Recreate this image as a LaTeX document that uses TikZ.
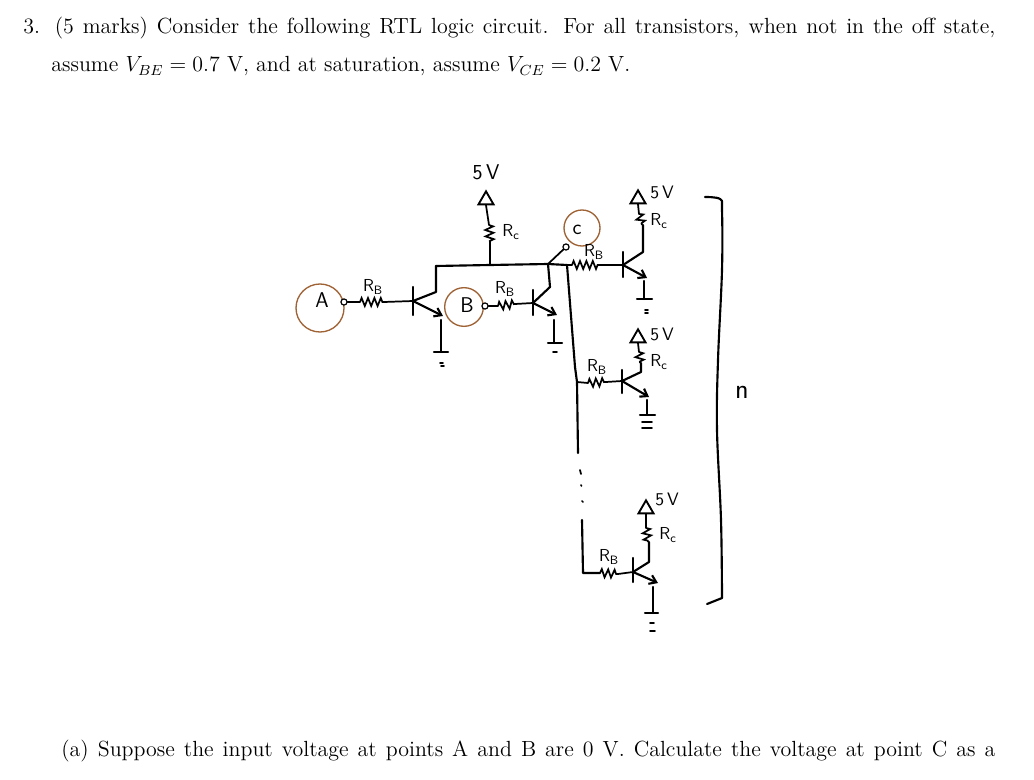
\documentclass[tikz,border=0pt]{standalone}
\usepackage{amsmath,amssymb}
\usepackage{tikz}
\usetikzlibrary{shapes,arrows,arrows.meta}
\usetikzlibrary{decorations.pathmorphing}
\definecolor{ringbrown}{RGB}{158,98,52}
\tikzstyle{wire} = [draw, line width=1.6pt, line join=round, line cap=round]
\tikzstyle{thin wire} = [draw, line width=1.3pt, line cap=round]
\tikzstyle{res} = [draw, line width=1.3pt, decorate, decoration={zigzag, segment length=4.8pt, amplitude=3pt}]
\tikzstyle{emit} = [-{Straight Barb[length=5pt,width=7pt]}, line width=1.6pt]
\tikzstyle{ring} = [circle, draw=ringbrown, line width=1pt, inner sep=0pt]
\tikzstyle{term} = [circle, draw, line width=0.9pt, fill=white, inner sep=0pt, minimum size=4.6pt]
\tikzstyle{rail} = [regular polygon, regular polygon sides=3, draw, line width=1.4pt, inner sep=0pt, minimum size=13pt]
\tikzstyle{hand} = [font=\sffamily\fontsize{13}{13}\selectfont, inner sep=0pt]
\tikzstyle{hand mid} = [font=\sffamily\fontsize{13.5}{13.5}\selectfont, inner sep=0pt]
\tikzstyle{hand big} = [font=\sffamily\fontsize{16}{16}\selectfont, inner sep=0pt]
\tikzstyle{prose} = [font=\fontsize{12}{14}\selectfont, scale=1.37, anchor=base west, inner sep=0pt]

\begin{document}
\begin{tikzpicture}[x=0.75pt,y=-0.75pt]

\useasboundingbox (0,0) rectangle (1034,780);
\fill[white] (0,0) rectangle (1034,780);

\node (l1) [prose] at (23,34) {\makebox[532.1pt][s]{3. (5 marks) Consider the following RTL logic circuit. For all transistors, when not in the off state,}};
\node (l2) [prose] at (51,72) {assume $V_{BE}=0.7$ V, and at saturation, assume $V_{CE}=0.2$ V.};
\node (l3) [prose] at (61,756) {\makebox[511.3pt][s]{(a) Suppose the input voltage at points A and B are 0 V. Calculate the voltage at point C as a}};

\node (ra) [ring, minimum size=36pt] at (320,308) {};
\node (rb) [ring, minimum size=29pt] at (464,307) {};
\node (rc) [ring, minimum size=27pt] at (582,228) {};
\node (la) [hand big] at (322,300) {A};
\node (lb) [hand big] at (467,305) {B};
\node (lc) [hand big] at (577,230) {c};

\node (ta) [term] at (344,302) {};
\node (tb) [term] at (485,306) {};
\node (tc) [term] at (566,247) {};

\coordinate (top1) at (436,266);
\coordinate (top2) at (490,265);
\coordinate (top3) at (548,264);
\coordinate (top4) at (567,265);

\draw [wire] (top1) -- (top2) -- (top3) -- (top4);
\draw [thin wire] (top3) -- (tc);

\node (v0) [rail] at (486,200) {};
\coordinate (r0a) at (489,225);
\coordinate (r0b) at (490,244);
\draw [thin wire] (v0.south) -- (r0a);
\draw [res] (r0a) -- (r0b);
\draw [thin wire] (r0b) -- (top2);
\node (s0) [hand big] at (486,172) {5\,V};
\node (c0) [hand] at (511,232) {R\textsubscript{c}};

\coordinate (b1) at (413,301);
\coordinate (r1a) at (360,302);
\coordinate (r1b) at (384,302);
\coordinate (c1) at (436,292);
\coordinate (e1) at (443,316);
\coordinate (g1) at (441,352);
\draw [thin wire] (ta) -- (r1a);
\draw [res] (r1a) -- (r1b);
\draw [thin wire] (r1b) -- (b1);
\draw [wire] (413,287) -- (413,315);
\draw [wire] (b1) -- (c1) -- (top1);
\draw [emit] (b1) -- (e1);
\draw [wire] (441,320) -- (g1);
\draw [wire] (434,352) -- (448,352);
\draw [thin wire] (440,363) -- (443,363);
\draw [thin wire] (441,366) -- (444,366);
\node (d1) [hand] at (373,287) {R\textsubscript{B}};

\coordinate (b2) at (533,303);
\coordinate (r2a) at (498,306);
\coordinate (r2b) at (515,304);
\coordinate (c2) at (550,287);
\coordinate (e2) at (557,315);
\coordinate (g2) at (554,343);
\draw [thin wire] (tb) -- (r2a);
\draw [res] (r2a) -- (r2b);
\draw [thin wire] (r2b) -- (b2);
\draw [wire] (533,290) -- (533,315);
\draw [wire] (b2) -- (c2) -- (top3);
\draw [emit] (b2) -- (e2);
\draw [wire] (554,320) -- (g2);
\draw [wire] (548,343) -- (562,343);
\draw [thin wire] (553,352) -- (557,352);
\node (d2) [hand] at (505,289) {R\textsubscript{B}};

\coordinate (b3) at (623,265);
\coordinate (r3a) at (572,265);
\coordinate (r3b) at (598,265);
\coordinate (c3) at (643,252);
\coordinate (e3) at (647,278);
\coordinate (g3) at (644,299);
\node (v3) [rail] at (638,199) {};
\coordinate (x3a) at (639,214);
\coordinate (x3b) at (642,225);
\draw [thin wire] (top4) -- (r3a);
\draw [res] (r3a) -- (r3b);
\draw [thin wire] (r3b) -- (b3);
\draw [wire] (623,252) -- (623,277);
\draw [wire] (b3) -- (c3) -- (643,225);
\draw [emit] (b3) -- (e3);
\draw [wire] (644,281) -- (g3);
\draw [wire] (637,299) -- (652,299);
\draw [thin wire] (v3.south) -- (x3a);
\draw [res] (x3a) -- (x3b);
\draw [thin wire] (645,310) -- (648,310);
\draw [thin wire] (645,313) -- (648,313);
\node (s3) [hand mid] at (662,192) {5\,V};
\node (c3l) [hand] at (659,221) {R\textsubscript{c}};
\node (d3) [hand] at (594,252) {R\textsubscript{B}};

\coordinate (j4) at (577,382);
\coordinate (b4) at (622,381);
\coordinate (r4a) at (588,383);
\coordinate (r4b) at (606,382);
\coordinate (c4) at (641,372);
\coordinate (e4) at (649,397);
\coordinate (g4) at (647,415);
\node (v4) [rail] at (638,338) {};
\coordinate (x4a) at (639,352);
\coordinate (x4b) at (640,363);
\draw [thin wire] (j4) -- (r4a);
\draw [res] (r4a) -- (r4b);
\draw [thin wire] (r4b) -- (b4);
\draw [wire] (622,370) -- (622,393);
\draw [wire] (b4) -- (c4) -- (641,363);
\draw [emit] (b4) -- (e4);
\draw [wire] (647,400) -- (g4);
\draw [wire] (640,415) -- (655,415);
\draw [thin wire] (v4.south) -- (x4a);
\draw [res] (x4a) -- (x4b);
\draw [thin wire] (642,422) -- (652,422);
\draw [thin wire] (642,428) -- (652,428);
\node (s4) [hand mid] at (662,334) {5\,V};
\node (c4l) [hand] at (659,362) {R\textsubscript{c}};
\node (d4) [hand] at (597,367) {R\textsubscript{B}};

\coordinate (j5) at (583,573);
\coordinate (b5) at (633,572);
\coordinate (r5a) at (600,573);
\coordinate (r5b) at (618,574);
\coordinate (c5) at (649,562);
\coordinate (e5) at (658,583);
\coordinate (g5) at (653,613);
\node (v5) [rail] at (646,509) {};
\coordinate (x5a) at (646,528);
\coordinate (x5b) at (648,542);
\draw [wire] (582,520) -- (j5) -- (r5a);
\draw [res] (r5a) -- (r5b);
\draw [thin wire] (r5b) -- (b5);
\draw [wire] (633,558) -- (633,582);
\draw [wire] (b5) -- (c5) -- (649,542);
\draw [emit] (b5) -- (e5);
\draw [wire] (653,587) -- (g5);
\draw [wire] (645,613) -- (658,613);
\draw [thin wire] (v5.south) -- (x5a);
\draw [res] (x5a) -- (x5b);
\draw [thin wire] (650,623) -- (654,623);
\draw [thin wire] (650,631) -- (655,631);
\node (s5) [hand mid] at (667,499) {5\,V};
\node (c5l) [hand] at (668,535) {R\textsubscript{c}};
\node (d5) [hand] at (609,557) {R\textsubscript{B}};

\draw [wire] (top4) -- (575,367) -- (j4) -- (578,453);
\draw [thin wire] (580,470) -- (581,474);
\draw [thin wire] (581,485) -- (581.5,486);
\draw [thin wire] (582,501) -- (583,502);

\draw [wire] plot [smooth, tension=0.6] coordinates {(705,197) (720,199) (722,210) (722,270) (718,360) (717,430) (721,520) (722,598)};
\draw [wire] (722,598) -- (707,604);
\node (n1) [font=\sffamily\fontsize{21}{21}\selectfont, inner sep=0pt] at (742,392) {n};

\end{tikzpicture}
\end{document}
